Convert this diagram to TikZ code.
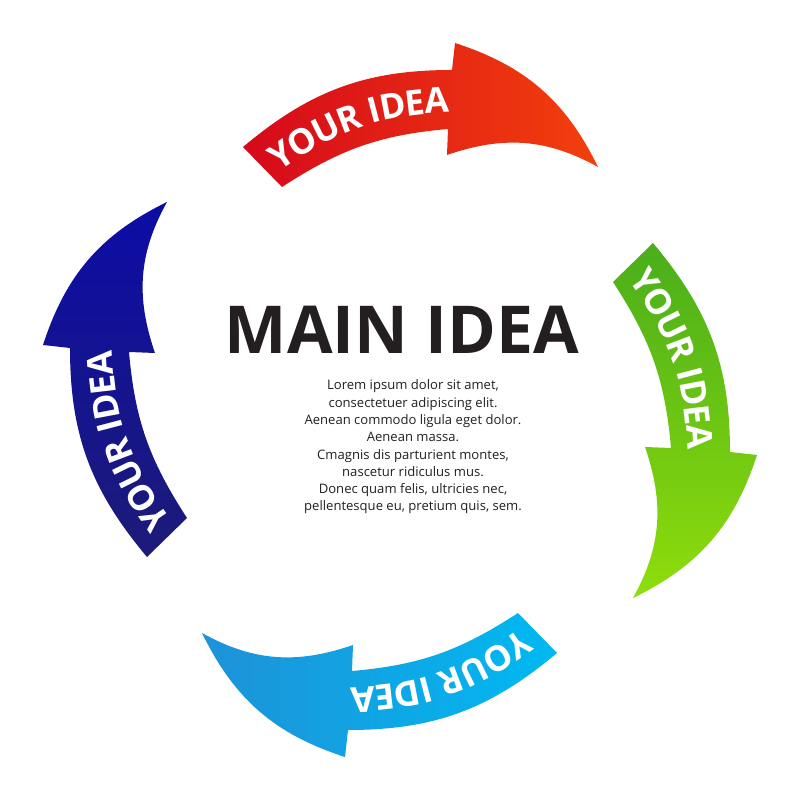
\documentclass[tikz,border=0pt]{standalone}
\usepackage{fontspec}
\setmainfont{Open Sans}
\usetikzlibrary{decorations.text}
\definecolor{ink}{HTML}{231F20}
\definecolor{redtail}{HTML}{D5091B}
\definecolor{redhead}{HTML}{F2400D}
\definecolor{greentail}{HTML}{4AAE1B}
\definecolor{greenhead}{HTML}{8FDD0B}
\definecolor{cyantail}{HTML}{00B9F1}
\definecolor{cyanhead}{HTML}{1E92D8}
\definecolor{navytail}{HTML}{1D1B78}
\definecolor{navyhead}{HTML}{0C0CA6}
\newcommand{\ideafont}{\fontsize{25}{25}\selectfont\bfseries}
% one curved arrow, turned about the centre
\newcommand{\ideaarrow}[2]{%
  \begin{scope}[rotate=#1]
    \shade[#2] (-118,213) -- (-157,253) to[out=40,in=180] (52,330)
      -- (55,357) to[out=-18,in=116] (198,233)
      to[out=151,in=19] (47,245) -- (48,271)
      to[out=185,in=33] (-118,213) -- cycle;
    \path[ideatext] (-130,237) to[out=36,in=182] (52,300);
  \end{scope}}

\begin{document}
\begin{tikzpicture}[
  x=0.025cm,
  y=0.025cm,
  every node/.style={ink},
  title/.style={font=\fontsize{47}{47}\selectfont\bfseries},
  blurb/.style={font=\fontsize{9.3}{12.3}\selectfont, align=center},
  ideatext/.style={decorate, decoration={text along path,
      text={|\ideafont|YOUR IDEA}, text color=white,
      text align=center, raise=-8.9pt}}
]
  \useasboundingbox (-400,-400) rectangle (400,400);

  % ---- the four arrows ----
  \ideaarrow{0}{left color=redtail, right color=redhead}
  \ideaarrow{-90}{top color=greentail, bottom color=greenhead}
  \ideaarrow{180}{right color=cyantail, left color=cyanhead}
  \ideaarrow{90}{bottom color=navytail, top color=navyhead}

  % ---- centre text ----
  \node[title] (main) at (2,70) {MAIN IDEA};
  \node[blurb] (body) at (13,-47) {Lorem ipsum dolor sit amet,\\
    consectetuer adipiscing elit.\\
    Aenean commodo ligula eget dolor.\\
    Aenean massa.\\
    Cmagnis dis parturient montes,\\
    nascetur ridiculus mus.\\
    Donec quam felis, ultricies nec,\\
    pellentesque eu, pretium quis, sem.};
\end{tikzpicture}
\end{document}
